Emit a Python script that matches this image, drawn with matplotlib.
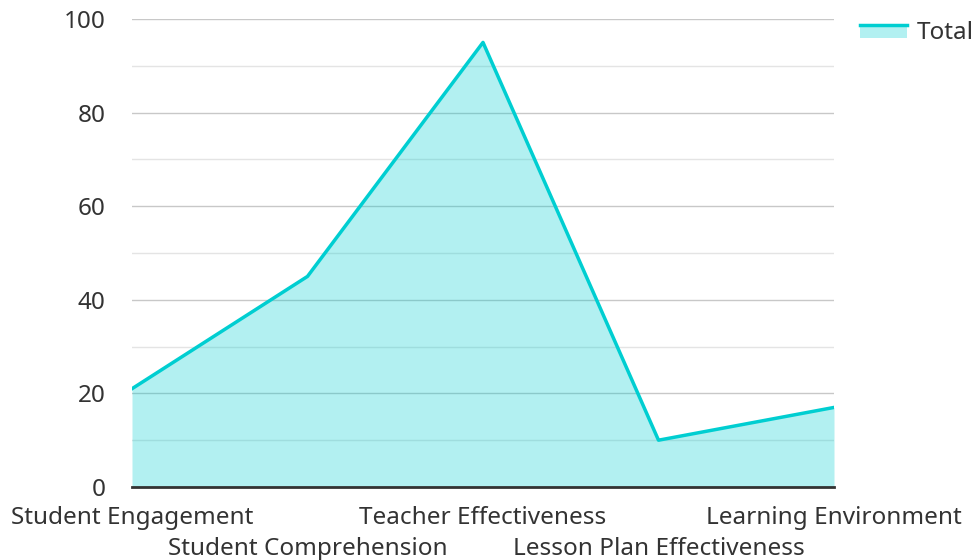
import matplotlib
matplotlib.use('Agg')
from matplotlib import pyplot as plt
from matplotlib.legend_handler import HandlerBase
from matplotlib.patches import Rectangle
from matplotlib.lines import Line2D
import numpy as np

categories = ['Student Engagement', 'Student Comprehension', 'Teacher Effectiveness',
              'Lesson Plan Effectiveness', 'Learning Environment']
totals = [21, 45, 95, 10, 17]
y_ticks = [0, 20, 40, 60, 80, 100]

line_color = '#00CED1'
text_color = '#333333'
fs = 17.5

plt.rcParams['font.family'] = ['Noto Sans', 'DejaVu Sans']


class LineFillHandler(HandlerBase):
    # fill swatch with the line drawn along its top edge
    def create_artists(self, legend, orig_handle, xdescent, ydescent,
                       width, height, fontsize, trans):
        top = -ydescent + height * 0.85
        rect = Rectangle((-xdescent, top - height * 0.8), width, height * 0.8,
                         facecolor=line_color, alpha=0.3, edgecolor='none',
                         transform=trans)
        line = Line2D([-xdescent, -xdescent + width], [top, top],
                      color=line_color, lw=2.5, transform=trans)
        return [rect, line]


fig = plt.figure(figsize=(9.75, 5.6), dpi=100)
ax = fig.add_axes([132 / 975, 1 - 487 / 560, (834 - 132) / 975, (487 - 19) / 560])

x = np.arange(len(categories))
ax.fill_between(x, totals, 0, color=line_color, alpha=0.3, lw=0, zorder=1)
ax.plot(x, totals, color=line_color, lw=2.5, zorder=3)

ax.set_xlim(0, len(categories) - 1)
ax.set_ylim(0, 100)
ax.set_yticks(y_ticks)
ax.set_yticks(np.arange(10, 100, 20), minor=True)
ax.yaxis.set_minor_formatter(plt.NullFormatter())
ax.grid(axis='y', which='major', color='#c8c8c8', lw=1, zorder=0)
ax.grid(axis='y', which='minor', color='#e4e4e4', lw=1, zorder=0)
ax.set_axisbelow(True)

# alternate category labels on two rows: even on major ticks, odd on minor ticks
ax.set_xticks(x[::2])
ax.set_xticklabels(categories[::2])
ax.set_xticks(x[1::2], minor=True)
ax.set_xticklabels(categories[1::2], minor=True)
ax.tick_params(axis='x', which='major', length=0, pad=14, labelsize=fs, labelcolor=text_color)
ax.tick_params(axis='x', which='minor', length=0, pad=36, labelsize=fs, labelcolor=text_color)
ax.tick_params(axis='y', which='both', length=0, pad=19, labelsize=fs, labelcolor=text_color)

for s in ['left', 'right', 'top']:
    ax.spines[s].set_visible(False)
ax.spines['bottom'].set_color(text_color)
ax.spines['bottom'].set_linewidth(2)
ax.spines['bottom'].set_zorder(4)

handle = object()
fig.legend([handle], ['Total'], handler_map={object: LineFillHandler()},
           loc='upper left', bbox_to_anchor=(860 / 975, 0.962), frameon=False,
           borderpad=0, borderaxespad=0, fontsize=fs, handlelength=1.95,
           handletextpad=0.4, labelcolor=text_color)

fig.savefig('out.png', dpi=100)
